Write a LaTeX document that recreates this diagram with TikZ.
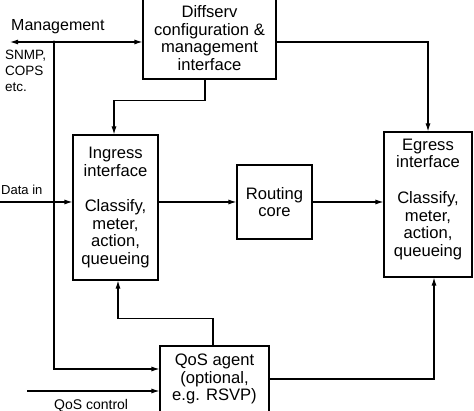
\documentclass[tikz,border=0pt]{standalone}
\usepackage{fontspec}
\setmainfont{Liberation Sans}
\usetikzlibrary{arrows.meta}
\tikzset{
    block/.style={
           rectangle,
           draw=black, line width=1.1pt,
           inner sep=2pt,
           align=center,
           font=\fontsize{16.6pt}{17.7pt}\selectfont,
           },
    lbl/.style={
           inner sep=0pt,
           align=left,
           font=\fontsize{14pt}{16pt}\selectfont,
           },
    flow/.style={line width=1.1pt, -{Latex[length=8pt,width=5pt]}},
}
\begin{document}
\begin{tikzpicture}[x=1pt,y=-1pt]
    \useasboundingbox (0,0) rectangle (474,411);

    % blocks
    \node[block, minimum width=133pt, minimum height=82pt] (cfg) at (209.5,38)
    {Diffserv\\configuration \&\\management\\interface};

    \node[block, minimum width=85pt, minimum height=145pt] (ingress) at (115.5,207.5)
    {Ingress\\interface\\[17.7pt]Classify,\\meter,\\action,\\queueing};

    \node[block, minimum width=75pt, minimum height=74pt] (core) at (274.5,202)
    {Routing\\core};

    \node[block, minimum width=88pt, minimum height=145pt] (egress) at (428,204.5)
    {Egress\\interface\\[17.7pt]Classify,\\meter,\\action,\\queueing\\[-4pt]\mbox{}};

    \node[block, minimum width=109pt, minimum height=66pt] (agent) at (214.5,379)
    {QoS agent\\(optional,\\e.g. RSVP)};

    % free ends
    \coordinate (mgmt) at (10,42);
    \coordinate (tap) at (54,42);
    \coordinate (datain) at (0,202);
    \coordinate (qosctl) at (27,391);

    % labels
    \node[lbl, anchor=base west, font=\fontsize{16pt}{18pt}\selectfont] (mgmtlbl) at (11,31) {Management};
    \node[lbl, anchor=north west, font=\fontsize{13.5pt}{15.8pt}\selectfont] (proto) at (5,50)
    {SNMP,\\COPS\\etc.};
    \node[lbl, anchor=base west, font=\fontsize{13pt}{15pt}\selectfont] (datalbl) at (1,195) {Data in};
    \node[lbl, anchor=base west] (qoslbl) at (54,409.5) {QoS control};

    % connectors
    \draw[flow, {Latex[length=8pt,width=5pt]}-{Latex[length=8pt,width=5pt]}]
        (mgmt) -- (mgmt -| cfg.west);
    \fill (tap) circle (1.6pt);
    \draw[flow] (tap) |- ([yshift=10pt]agent.west);
    \draw[flow] (qosctl) -- (qosctl -| agent.west);

    \draw[flow] ([xshift=-4.5pt]cfg.south) -- ++(0,21) -| ([xshift=-1.5pt]ingress.north);
    \draw[flow] ([yshift=-4pt]cfg.east) -| (egress.north);

    \draw[flow] (datain) -- (datain -| ingress.west);
    \draw[flow] (ingress.east |- core.west) -- (core.west);
    \draw[flow] (core.east) -- (core.east -| egress.west);

    \draw[flow] ([xshift=-1.5pt]agent.north) -- ++(0,-27) -| ([xshift=2.5pt]ingress.south);
    \draw[flow] (agent.east) -| ([xshift=6pt]egress.south);
\end{tikzpicture}
\end{document}
